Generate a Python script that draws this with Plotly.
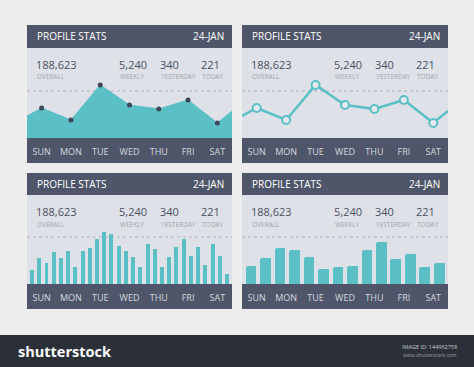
import plotly.graph_objects as go

W, H = 474, 367

# ---------------- data ----------------
days = ["SUN", "MON", "TUE", "WED", "THU", "FRI", "SAT"]
line_values = [30, 18, 53, 33, 29, 38, 15]
line_edge_left = 22
line_edge_right = 27
bars_28 = [14, 26, 21, 32, 26, 33, 17, 33, 36, 45, 52, 50, 38, 33,
           27, 17, 40, 35, 17, 27, 37, 45, 28, 37, 19, 40, 28, 10]
bars_14 = [18, 26, 36, 34, 27, 15, 17, 18, 34, 42, 25, 30, 17, 21]
header_title = "PROFILE STATS"
header_date = "24-JAN"
stat_values = ["188,623", "5,240", "340", "221"]
stat_labels = ["OVERALL", "WEEKLY", "YESTERDAY", "TODAY"]
reference_level = 47

# ---------------- style ----------------
FONT = "Open Sans"
PAGE_BG = "#eeeeee"
DARK = "#50566a"
PANEL_BG = "#dee2e8"
TEAL = "#5bbfc6"
NUM_COL = "#4b5060"
LAB_COL = "#9ea3ad"
TICK_COL = "#d3d6de"

def fx(x):
    return x / W

def fy(y):
    return 1 - y / H

panels = {
    # name: (x0, x1, header_top, plot_top, plot_bottom, footer_bottom)
    "tl": (27, 232, 25, 48, 138, 163),
    "tr": (242, 448, 25, 48, 138, 163),
    "bl": (27, 232, 173, 195, 284, 309),
    "br": (242, 448, 173, 195, 284, 309),
}
axis_ids = {"tl": "", "tr": "2", "bl": "3", "br": "4"}
stat_offsets = [9, 92, 133, 174]

fig = go.Figure()

# top-left: area chart
xs_line = [-0.5] + list(range(7)) + [6.5]
ys_line = [line_edge_left] + line_values + [line_edge_right]
fig.add_trace(go.Scatter(x=xs_line, y=ys_line, mode="lines", fill="tozeroy",
                         line=dict(color=TEAL, width=1), fillcolor=TEAL,
                         xaxis="x", yaxis="y", hoverinfo="skip"))
fig.add_trace(go.Scatter(x=list(range(7)), y=line_values, mode="markers",
                         marker=dict(size=5, color="#41475a"),
                         xaxis="x", yaxis="y"))

# top-right: line chart
fig.add_trace(go.Scatter(x=xs_line, y=ys_line, mode="lines",
                         line=dict(color=TEAL, width=2.5),
                         xaxis="x2", yaxis="y2", hoverinfo="skip"))
fig.add_trace(go.Scatter(x=list(range(7)), y=line_values, mode="markers",
                         marker=dict(size=8, color="#e6e9ee",
                                     line=dict(color=TEAL, width=2)),
                         xaxis="x2", yaxis="y2"))

# bottom-left: 28 thin bars
fig.add_trace(go.Bar(x=list(range(28)), y=bars_28, width=0.55,
                     marker=dict(color=TEAL, line=dict(width=0)),
                     xaxis="x3", yaxis="y3"))

# bottom-right: 14 wide bars
fig.add_trace(go.Bar(x=list(range(14)), y=bars_14, width=0.74,
                     marker=dict(color=TEAL, line=dict(width=0), cornerradius=2),
                     xaxis="x4", yaxis="y4"))

x_ranges = {"tl": [-0.5, 6.5], "tr": [-0.5, 6.5],
            "bl": [-0.7, 27.7], "br": [-0.62, 13.6]}

shapes = []
annotations = []
layout_axes = {}
for key, (x0, x1, ht, pt, pb, fb) in panels.items():
    aid = axis_ids[key]
    r0, r1 = x_ranges[key]
    span = (r1 - r0) / 7
    tickvals = [r0 + (i + 0.5) * span for i in range(7)]
    layout_axes["xaxis" + aid] = dict(
        domain=[fx(x0), fx(x1)], range=[r0, r1], anchor="y" + aid,
        tickvals=tickvals, ticktext=days, showgrid=False, zeroline=False,
        showline=False, ticks="", ticklabelstandoff=7,
        tickfont=dict(family=FONT, size=9, color=TICK_COL), fixedrange=True)
    layout_axes["yaxis" + aid] = dict(
        domain=[fy(pb), fy(pt)], range=[0, pb - pt], anchor="x" + aid,
        visible=False, fixedrange=True)
    # header and footer bands
    shapes.append(dict(type="rect", xref="paper", yref="paper", x0=fx(x0), x1=fx(x1),
                       y0=fy(pt), y1=fy(ht), fillcolor=DARK, line=dict(width=0),
                       layer="below"))
    shapes.append(dict(type="rect", xref="paper", yref="paper", x0=fx(x0), x1=fx(x1),
                       y0=fy(fb), y1=fy(pb), fillcolor=DARK, line=dict(width=0),
                       layer="below"))
    # dotted reference line
    shapes.append(dict(type="line", xref="x%s domain" % aid, yref="y" + aid,
                       x0=0, x1=1, y0=reference_level, y1=reference_level,
                       line=dict(color="#adb2bb", width=1, dash="dot"), layer="below"))
    # header texts
    hc = (ht + pt) / 2
    annotations.append(dict(text=header_title, xref="paper", yref="paper",
                            x=fx(x0 + 8), y=fy(hc), xanchor="left", yanchor="middle",
                            showarrow=False, font=dict(family=FONT, size=10, color="white")))
    annotations.append(dict(text=header_date, xref="paper", yref="paper",
                            x=fx(x1 - 6), y=fy(hc), xanchor="right", yanchor="middle",
                            showarrow=False, font=dict(family=FONT, size=10, color="white")))
    # stats
    for off, val, lab in zip(stat_offsets, stat_values, stat_labels):
        annotations.append(dict(text=val, xref="paper", yref="paper",
                                x=fx(x0 + off - 1), y=fy(pt + 25), xanchor="left",
                                yanchor="bottom", showarrow=False, borderpad=0,
                                font=dict(family=FONT, size=11, color=NUM_COL)))
        annotations.append(dict(text=lab, xref="paper", yref="paper",
                                x=fx(x0 + off), y=fy(pt + 23.5), xanchor="left",
                                yanchor="top", showarrow=False, borderpad=0,
                                font=dict(family=FONT, size=6.5, color=LAB_COL)))

# bottom banner
shapes.append(dict(type="rect", xref="paper", yref="paper", x0=0, x1=1,
                   y0=0, y1=fy(335), fillcolor="#2b2f37", line=dict(width=0),
                   layer="below"))
annotations.append(dict(text="<b>shutterstock</b>", xref="paper", yref="paper",
                        x=fx(16), y=fy(351), xanchor="left", yanchor="middle",
                        showarrow=False, font=dict(family=FONT, size=14.5, color="white")))
annotations.append(dict(text="IMAGE ID: 144962758", xref="paper", yref="paper",
                        x=fx(458), y=fy(347), xanchor="right", yanchor="middle",
                        showarrow=False, borderpad=0,
                        font=dict(family=FONT, size=5.5, color="#c8cbd2")))
annotations.append(dict(text="www.shutterstock.com", xref="paper", yref="paper",
                        x=fx(458), y=fy(355), xanchor="right", yanchor="middle",
                        showarrow=False, borderpad=0,
                        font=dict(family=FONT, size=5, color="#9a9ea8")))

fig.update_layout(
    width=W, height=H, margin=dict(l=0, r=0, t=0, b=0),
    paper_bgcolor=PAGE_BG, plot_bgcolor=PANEL_BG,
    showlegend=False, bargap=0, shapes=shapes, annotations=annotations,
    font=dict(family=FONT),
    **layout_axes,
)

fig.write_html("out.html", config={"displayModeBar": False},
               post_script="document.body.style.margin='0';"
                           "document.body.style.overflow='hidden';")
